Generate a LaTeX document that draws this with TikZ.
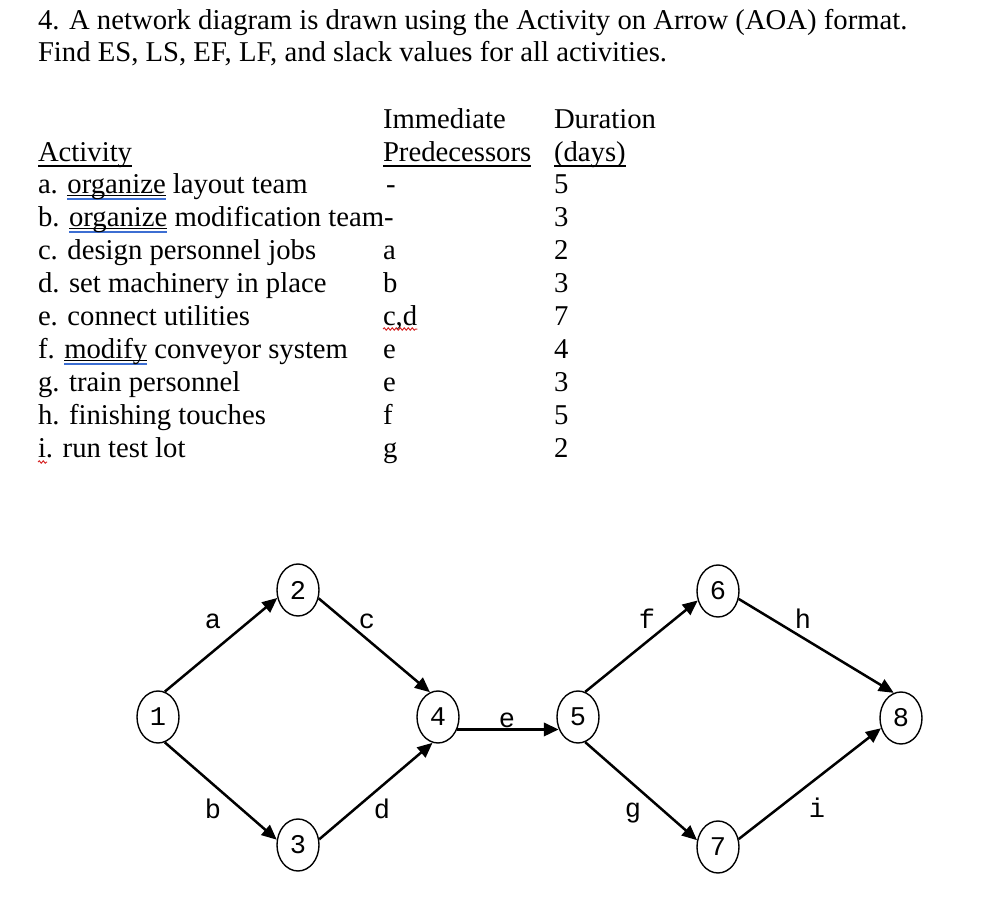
\documentclass[tikz,border=0pt]{standalone}
\usepackage{fontspec}
\setmainfont{Liberation Serif}
\newfontfamily\diafont{Liberation Mono}
\usetikzlibrary{shapes.geometric,arrows.meta,decorations.pathmorphing}
\definecolor{spellblue}{RGB}{60,110,210}
\definecolor{spellred}{RGB}{215,40,40}
\newcommand\hdul[1]{\setbox0\hbox{#1}\rlap{\rule[-5.7pt]{\wd0}{2pt}}\box0\relax}
\newcommand\spellul[1]{\setbox0\hbox{#1}\rlap{\rule[-3.3pt]{\wd0}{1.6pt}}\rlap{\textcolor{spellblue}{\rule[-7.3pt]{\wd0}{2.4pt}}}\box0\relax}
\begin{document}
\begin{tikzpicture}[x=1pt,y=-1pt,
 txt/.style={anchor=base west, inner sep=0pt, outer sep=0pt, font=\fontsize{28.7}{33}\selectfont},
 evt/.style={ellipse, draw, line width=1.4pt, minimum width=42pt, minimum height=52pt, inner sep=0pt, font=\diafont\fontsize{27}{27}\selectfont},
 act/.style={line width=2.5pt, -{Triangle[length=15pt,width=13pt]}},
 lbl/.style={anchor=base, inner sep=0pt, font=\diafont\fontsize{27}{27}\selectfont},
 squig/.style={spellred, line width=1pt, decorate, decoration={snake, amplitude=1.2pt, segment length=4pt}}]
\fill[white] (0,0) rectangle (1002,900);
\useasboundingbox (0,0) rectangle (1002,900);
% title
\node[txt] (t1) at (38,29.5) {4. A network diagram is drawn using the Activity on Arrow (AOA) format.};
\node[txt] (t2) at (38,61.5) {Find ES, LS, EF, LF, and slack values for all activities.};
% table header
\node[txt] (h2a) at (383,128) {Immediate};
\node[txt] (h3a) at (554,128) {Duration};
\node[txt] (h1) at (38,161) {\hdul{Activity}};
\node[txt] (h2) at (383,161) {\hdul{Predecessors}};
\node[txt] (h3) at (554,161) {\hdul{(days)}};
% rows
\node[txt] (ra) at (38,193) {a. \spellul{organize} layout team};
\node[txt] (pa) at (386,193) {-};
\node[txt] (da) at (554,193) {5};
\node[txt] (rb) at (38,226) {b. \spellul{organize} modification team-};
\node[txt] (db) at (554,226) {3};
\node[txt] (rc) at (38,259) {c. design personnel jobs};
\node[txt] (pc) at (383,259) {a};
\node[txt] (dc) at (554,259) {2};
\node[txt] (rd) at (38,292) {d. set machinery in place};
\node[txt] (pd) at (383,292) {b};
\node[txt] (dd) at (554,292) {3};
\node[txt] (re) at (38,325) {e. connect utilities};
\node[txt] (pe) at (383,325) {c,d};
\node[txt] (de) at (554,325) {7};
\node[txt] (rf) at (38,358) {f. \spellul{modify} conveyor system};
\node[txt] (pf) at (383,358) {e};
\node[txt] (df) at (554,358) {4};
\node[txt] (rg) at (38,391) {g. train personnel};
\node[txt] (pg) at (383,391) {e};
\node[txt] (dg) at (554,391) {3};
\node[txt] (rh) at (38,424) {h. finishing touches};
\node[txt] (ph) at (383,424) {f};
\node[txt] (dh) at (554,424) {5};
\node[txt] (ri) at (38,457) {i. run test lot};
\node[txt] (pi) at (383,457) {g};
\node[txt] (di) at (554,457) {2};
% spell-check squiggles
\draw[squig] ([yshift=-4pt]pe.base west) -- ([yshift=-4pt]pe.base east);
\draw[squig] ([yshift=-5pt]ri.base west) -- ++(9,0);
% network
\node[evt] (n1) at (158,717) {1};
\node[evt] (n2) at (298,590) {2};
\node[evt] (n3) at (298,845) {3};
\node[evt] (n4) at (438,717) {4};
\node[evt] (n5) at (578,717) {5};
\node[evt] (n6) at (718,591) {6};
\node[evt] (n7) at (718,847) {7};
\node[evt] (n8) at (901,718) {8};
\draw[act] (n1.75) -- (n2.201);
\draw[act] (n1.-75) -- (n3.166);
\draw[act] (n2.-22) -- (n4.108);
\draw[act] (n3.15) -- (n4.-102);
\draw[act, line width=3.5pt] (n4.-33) -- (n5.-147);
\draw[act] (n5.74) -- (n6.205);
\draw[act] (n5.-74) -- (n7.162);
\draw[act] (n6.-21) -- (n8.106);
\draw[act] (n7.21) -- (n8.207);
\node[lbl] (la) at (213,628) {a};
\node[lbl] (lc) at (367,628) {c};
\node[lbl] (lb) at (213,818) {b};
\node[lbl] (ld) at (382,818) {d};
\node[lbl] (le) at (507,727) {e};
\node[lbl] (lf) at (647,628) {f};
\node[lbl] (lh) at (803,628) {h};
\node[lbl] (lg) at (633,817) {g};
\node[lbl] (li) at (817,817) {i};
\end{tikzpicture}
\end{document}
